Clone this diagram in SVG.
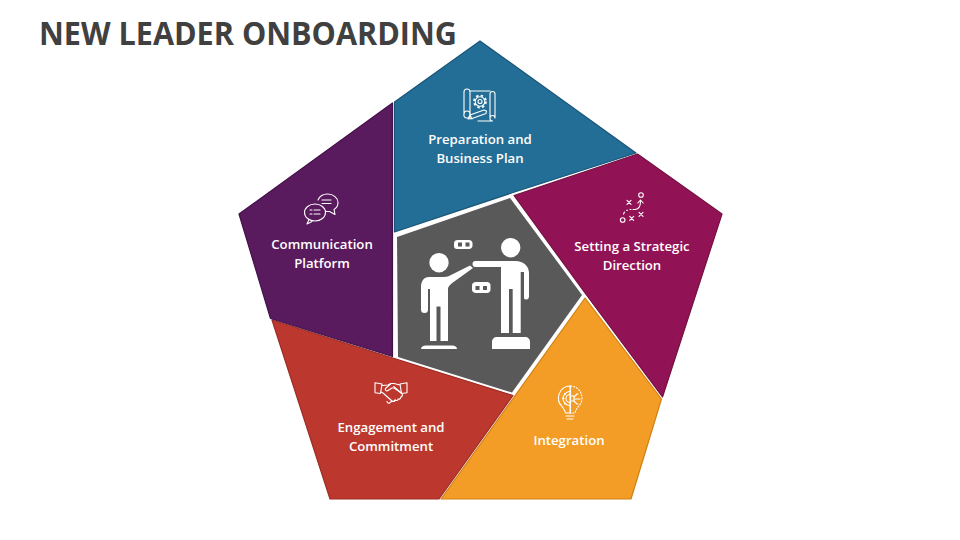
<svg xmlns="http://www.w3.org/2000/svg" width="960" height="540" viewBox="0 0 960 540">
<style>
.lbl{font-family:"Open Sans","Liberation Sans",sans-serif;font-size:13.2px;font-weight:600;fill:#fff;text-anchor:middle}
.ic{fill:none;stroke:#fff;stroke-width:1.1;stroke-linejoin:round;stroke-linecap:round}
.w{fill:#fff;stroke:none}
.seg{stroke-width:1.2;stroke-linejoin:round}
</style>
<rect width="960" height="540" fill="#fff"/>
<text x="39" y="45" font-family="'Open Sans','Liberation Sans',sans-serif" font-size="31.500" font-weight="700" fill="#404040" textLength="418" lengthAdjust="spacingAndGlyphs">NEW LEADER ONBOARDING</text>
<g id="node-preparation">
<polygon class="seg" points="480,41 636,153 511.500,193 394.500,232 394.500,102" fill="#236e96" stroke="#1a5578"/>
<g class="ic">
<path d="M470 91h20M464 92a3 3 0 0 1 6 0v22a3 3 0 0 0-6 0zM464 114a3 3 0 0 0 3 4h3"/>
<path d="M490 94a2.500 2.500 0 0 1 5 0v24a2.500 2.500 0 0 0-5 0zM490 118a2.500 2.500 0 0 0 2.500 3H478"/>
<path d="M470 114v4"/>
<circle cx="480" cy="101.500" r="2"/>
<circle cx="480" cy="101.500" r="4.800"/>
<circle cx="480" cy="101.500" r="6" stroke-width="1.800" stroke-linecap="butt" stroke-dasharray="2.400 2.312"/>
<path d="M468 119l2-4 14-5 2.500 1-.5 2.500-14 5zM470 115l2 4"/>
</g>
<text class="lbl" x="480" y="144">Preparation and</text>
<text class="lbl" x="480" y="163">Business Plan</text>
</g>
<g id="node-strategic">
<polygon class="seg" points="637.500,154 722,214 662.500,397 586.500,295 514,195.500" fill="#921355" stroke="#74103f"/>
<g class="ic" stroke-width="1.500">
<circle cx="641" cy="195" r="2.300"/><circle cx="622.700" cy="220" r="2.300"/>
<path d="M627 200.300l4 4m0-4l-4 4M639 212.300l4 4m0-4l-4 4M629.700 216.300l4 4m0-4l-4 4"/>
<path d="M623.500 214l1-2M626.500 210.200h1M630 209.500h1M633 209.500h1.500c4 0 6-3 6-8M637.800 203l2.700-3 2.700 3"/>
</g>
<text class="lbl" x="632" y="251">Setting a Strategic</text>
<text class="lbl" x="632" y="270">Direction</text>
</g>
<g id="node-integration">
<polygon class="seg" points="585,298 661.500,399 631,499 441,499" fill="#f39c26" stroke="#cf8214"/>
<g class="ic">
<path d="M570 386a12 12 0 0 0-8 20.500c2 2.500 3 4 3.500 6.500H570z"/>
<path d="M570.500 386a12 12 0 0 1 8 20.500c-2 2.500-3 4-3.500 6.500h-4.500" stroke-dasharray="1.200 1.800"/>
<path d="M566 416h8M567 419h6"/>
<path d="M570.500 386v27"/>
<path d="M570 391.500a7 7 0 0 0 0 14M570 394.500a4 4 0 0 0 0 8M562.500 398.500h1.500M564.500 393.500l1 1M564.500 404l1-1"/>
<rect x="570.500" y="396" width="3.500" height="5"/>
<path d="M574 397l3-3h1M574 399h6M574 401l3 3h1"/>
</g>
<text class="lbl" x="569" y="445">Integration</text>
</g>
<g id="node-engagement">
<polygon class="seg" points="272,320 396,359 513,395.500 439,499 330,499" fill="#bc382e" stroke="#9e2c24"/>
<g class="ic" stroke-width="1.200">
<path d="M375 382.700l7 1.300-1.500 9.500-5.500-.8zM407 382.700l-7 1.300 1.500 9.500 5.500-.8z"/>
<path d="M382 385.500l6-.5 3-1.500h3l6 1.500M381 392l2 1 9 8c1.500 1 3 .500 3-1 1.500 1 3 .500 3-1 1.500.500 3-.500 2.700-2 1.500 0 2.500-2 1-3.500l-8-7"/>
<path d="M391 383.500l-5.500 5c-1 1.500 1 3 2.500 2l4-2.500h2l7.500 5"/>
<path d="M392 401l-2.500 2c-1 .5-2 0-2.500-1.500M395 400l-1.500 1.500"/>
</g>
<text class="lbl" x="391" y="432">Engagement and</text>
<text class="lbl" x="391" y="451">Commitment</text>
</g>
<g id="node-communication">
<polygon class="seg" points="239,214 392.500,103 392.500,356.500 270.500,318.500" fill="#5a1a5e" stroke="#43114a"/>
<g class="ic">
<path d="M318 200c1.500-3.500 5-6 9.500-6 6 0 10.500 4 10.500 8.500 0 3-1.500 5.500-4 7l1 5-5.500-3h-4"/>
<ellipse cx="315" cy="212.500" rx="10.500" ry="8.500"/>
<path d="M309 219.500l-2 4.500 5-2.500"/>
<path d="M322 200h9M322 203.500h9M310 210h2M314 210h6M310 214h2M314 214h6"/>
</g>
<text class="lbl" x="322" y="249">Communication</text>
<text class="lbl" x="322" y="268">Platform</text>
</g>
<g id="node-center">
<polygon points="397,237 510,198 582,295 512,392.500 398,357" fill="#595959"/>
<g class="w">
<path d="M458 240h11c2 0 3.500 1.500 3.500 3.500v2c0 2-1.500 3.500-3.500 3.500h-12c-2 0-3-1-3-3v-2.500c0-2.500 1.500-3.500 4-3.500z"/>
<path d="M476 282h11c2 0 3.500 1.500 3.500 3.500v4c0 2-1.500 3.500-3.500 3.500h-11c-2.500 0-4-1.500-4-3.500v-4c0-2 1.500-3.500 4-3.500z"/>
<circle cx="439" cy="262.700" r="9.700"/>
<circle cx="510.700" cy="247.700" r="9.700"/>
<path d="M429 277h15c3 0 5-1 7-2l19-9.500 3 2.500-18 13c-3 2-6 4-7 7v53h-7.500v-34.500h-4V341H430v-52h-2v20.500a3.500 3.500 0 0 1-7 0V287c0-6 3-10 8-10z"/>
<path d="M421 349c0-2 2-3.500 5-3.500h26c3 0 5 1.500 5 3.500z"/>
<path d="M475.500 261h40c8 0 13.500 5 13.500 12v24a2.800 2.800 0 0 1-5 1.500V272h-3.300v61h-8v-44h-3.700v44H501v-66l-25.500 0a3 3 0 0 1 0-6z"/>
<path d="M497 337h28c3 0 5 2 5 5v7h-38v-7c0-3 2-5 5-5z"/>
</g>
<g fill="#595959"><rect x="458" y="242.500" width="4" height="4"/><rect x="465.500" y="242.500" width="4" height="4"/><rect x="475.500" y="286" width="4" height="4"/><rect x="483" y="286" width="4" height="4"/></g>
</g>
</svg>
